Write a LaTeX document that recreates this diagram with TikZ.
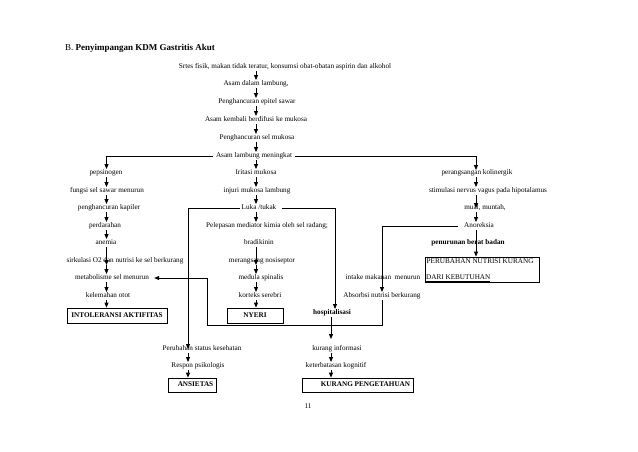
\documentclass[tikz,border=0pt]{standalone}
\usepackage{fontspec}
\setmainfont{Liberation Serif}
\usetikzlibrary{arrows.meta}
\newcommand\fs{\fontsize{7.2}{8.5}\selectfont}
\tikzset{
  t/.style={inner xsep=0pt, inner ysep=0.6pt, text height=5pt, text depth=1.4pt, font=\fs},
  tb/.style={t, font=\fs\bfseries},
  bx/.style={draw, line width=0.8pt, inner sep=0pt},
  arr/.style={-{Triangle[length=5pt,width=4pt]}, line width=0.8pt},
  ln/.style={line width=0.8pt},
}
\begin{document}
\begin{tikzpicture}[x=1pt,y=-1pt]
\useasboundingbox (0,0) rectangle (638,451);
\fill[white] (0,0) rectangle (638,451);
% column x positions
\coordinate (cx) at (256,0);
\coordinate (cl) at (106.5,0);
\coordinate (cr) at (476,0);
\coordinate (cb) at (188,0);
\coordinate (ch) at (331,0);
\coordinate (ch2) at (335,0);
\coordinate (ca) at (382,0);
\coordinate (lp1) at (382,325);
\coordinate (lp2) at (207,325);
\coordinate (lp3) at (207,278);

\node[anchor=west, inner sep=0pt, font=\fontsize{9}{11}\selectfont] (title) at (65,48) {B. \textbf{Penyimpangan KDM Gastritis Akut}};

% main chain
\node[t] (n1) at (285,67) {Srtes fisik, makan tidak teratur, konsumsi obat-obatan aspirin dan alkohol};
\node[t] (n2) at (256,84) {Asam dalam lambung,};
\node[t] (n3) at (257,102) {Penghancuran epitel sawar};
\node[t] (n4) at (256,120) {Asam kembali berdifusi ke mukosa};
\node[t] (n5) at (257,138) {Penghancuran sel mukosa};
\node[t] (n6) at (254,156) {Asam lambung meningkat};

% left column
\node[t] (l1) at (106,173) {pepsinogen};
\node[t] (l2) at (107,191) {fungsi sel sawar menurun};
\node[t] (l3) at (109,208) {penghancuran kapiler};
\node[t] (l4) at (105,226) {perdarahan};
\node[t] (l5) at (106,243) {anemia};
\node[t] (l6) at (125,261) {sirkulasi O2 dan nutrisi ke sel berkurang};
\node[t] (l7) at (112,278) {metabolisme sel menurun};
\node[t] (l8) at (108,296) {kelemahan otot};
\node[bx, minimum width=100pt, minimum height=15pt, font=\fs\bfseries] (l9) at (117,315.5) {INTOLERANSI AKTIFITAS};

% middle column
\node[t] (m1) at (256,173) {Iritasi mukosa};
\node[t] (m2) at (257,191) {injuri mukosa lambung};
\node[t] (m3) at (259,208) {Luka /tukak};
\node[t] (m4) at (267,226) {Pelepasan mediator kimia oleh sel radang;};
\node[t] (m5) at (259,243) {bradikinin};
\node[t] (m6) at (262,261) {merangsang nosiseptor};
\node[t] (m7) at (261,278) {medula spinalis};
\node[t] (m8) at (260,296) {korteks serebri};
\node[bx, minimum width=56pt, minimum height=15pt, font=\fs\bfseries] (m9) at (255,315.5) {NYERI};
\node[tb] (hosp) at (332,313) {hospitalisasi};

% right column
\node[t] (r1) at (477,173) {perangsangan kolinergik};
\node[t] (r2) at (488,191) {stimulasi nervus vagus pada hipotalamus};
\node[t] (r3) at (485,208) {mual, muntah,};
\node[t] (r4) at (479,226) {Anoreksia};
\node[tb] (r5) at (468,243) {penurunan berat badan};
\node[bx, minimum width=114pt, minimum height=25pt] (r6) at (482,269.5) {};
\node[t, anchor=west] (r6a) at (426.5,262) {PERUBAHAN NUTRISI KURANG};
\node[t, anchor=west] (r6b) at (426,277.5) {\underline{DARI KEBUTUHAN}};

\node[t] (ik) at (383,278) {intake makanan\ \ menurun};
\node[t] (abs) at (382,296) {Absorbsi nutrisi berkurang};

% bottom
\node[t] (b1) at (202,349) {Perubahan status kesehatan};
\node[t] (b2) at (198,366) {Respon psikologis};
\node[bx, minimum width=48pt, minimum height=14pt] (b3) at (192,385) {};
\node[tb] (b3t) at (195.5,385) {ANSIETAS};
\node[t] (b4) at (337,349) {kurang informasi};
\node[t] (b5) at (336,366) {keterbatasan kognitif};
\node[bx, minimum width=111pt, minimum height=14pt] (b6) at (357.5,385) {};
\node[tb] (b6t) at (365.5,385) {KURANG PENGETAHUAN};

\node[t] (pg) at (308,407) {11};

% main chain arrows
\draw[arr] (n1.south -| cx) -- (n2.north -| cx);
\draw[arr] (n2.south -| cx) -- (n3.north -| cx);
\draw[arr] (n3.south -| cx) -- (n4.north -| cx);
\draw[arr] (n4.south -| cx) -- (n5.north -| cx);
\draw[arr] (n5.south -| cx) -- (n6.north -| cx);
\draw[arr] (n6.south -| cx) -- (m1.north -| cx);
\draw[arr] (m1.south -| cx) -- (m2.north -| cx);
\draw[arr] (m2.south -| cx) -- (m3.north -| cx);
\draw[arr] (m3.south -| cx) -- (m4.north -| cx);
\draw[arr] (m5.south -| cx) -- (m6.south -| cx);
\draw[arr] (m6.south -| cx) -- (m7.north -| cx);
\draw[arr] (m7.south -| cx) -- (m8.north -| cx);
\draw[arr] (m8.south -| cx) -- (m9.north -| cx);

% branches from Asam lambung meningkat
\draw[arr, shorten <=3pt] (n6.west) -| (l1.north -| cl);
\draw[arr, shorten <=3pt, shorten >=3pt] (n6.east) -| (r1.center -| cr);

% left chain arrows
\draw[arr] (l1.south -| cl) -- (l2.north -| cl);
\draw[arr] (l2.south -| cl) -- (l3.north -| cl);
\draw[arr] (l3.south -| cl) -- (l4.north -| cl);
\draw[arr] (l4.south -| cl) -- (l5.north -| cl);
\draw[arr] (l5.south -| cl) -- (l6.south -| cl);
\draw[arr] (l6.south -| cl) -- (l7.north -| cl);
\draw[arr] (l7.south -| cl) -- (l8.north -| cl);
\draw[arr] (l8.south -| cl) -- (l9.north -| cl);

% right chain arrows
\draw[arr] (r1.south -| cr) -- (r2.north -| cr);
\draw[arr] (r2.south -| cr) -- (r3.center -| cr);
\draw[arr] (r3.south -| cr) -- (r4.north -| cr);
\draw[arr] (r4.south -| cr) -- (r6.north -| cr);

% Anoreksia to Absorbsi, loop to metabolisme
\draw[arr, shorten <=6pt] (r4.west) -| (abs.north -| ca);
\draw[arr, shorten >=5pt] (abs.south -| ca) -- (lp1) -- (lp2) -- (lp3) -- (l7.east);

% Luka branches
\draw[arr, shorten <=2pt] (m3.west) -| (b1.center -| cb);
\draw[arr, shorten <=6pt] (m3.east) -| (hosp.north -| ch2);

% bottom chains
\draw[arr] (b1.south -| cb) -- (b2.north -| cb);
\draw[arr] (b2.south -| cb) -- (b3.north -| cb);
\draw[arr, shorten >=6pt] (hosp.south -| ch) -- (b4.north -| ch);
\draw[arr] (b4.south -| ch) -- (b5.north -| ch);
\draw[arr] (b5.south -| ch) -- (b6.north -| ch);
\end{tikzpicture}
\end{document}
